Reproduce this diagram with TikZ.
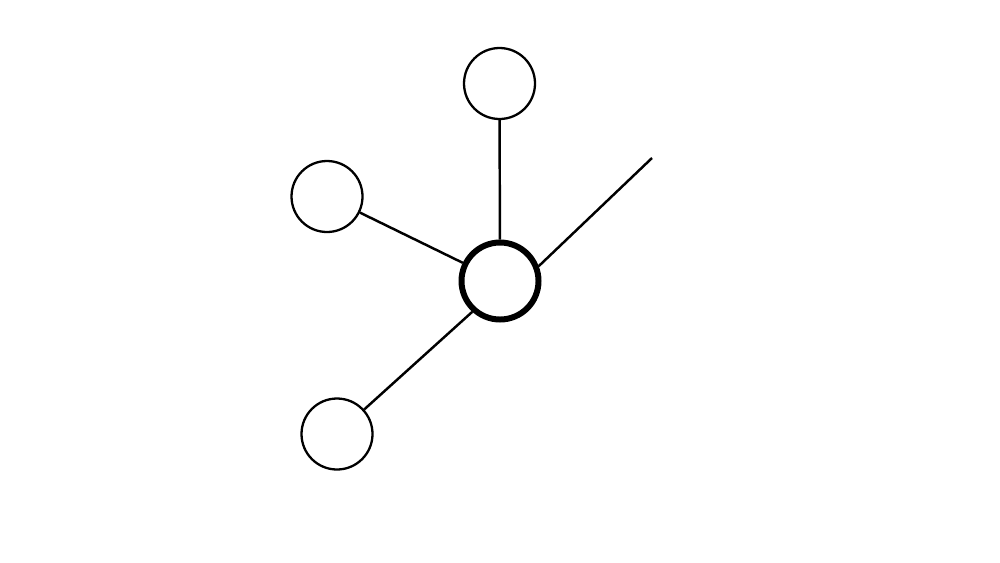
\documentclass[tikz,border=0pt]{standalone}
\begin{document}
\begin{tikzpicture}[
  leaf/.style={circle,draw=black,line width=0.65pt,minimum size=0.71cm,inner sep=0pt,fill=white},
  hub/.style={circle,draw=black,line width=1.7pt,minimum size=0.77cm,inner sep=0pt,fill=white},
  link/.style={draw=black,line width=0.7pt}
]
\useasboundingbox (0,0) rectangle (10,5.62);
\fill[white] (0,0) rectangle (10,5.62);
\node[hub] (c) at (5.00,2.81) {};
\node[leaf] (t) at (4.995,4.785) {};
\node[leaf] (l) at (3.27,3.655) {};
\node[leaf] (b) at (3.37,1.28) {};
\coordinate (e) at (6.52,4.04);
\draw[link] (c) -- (t);
\draw[link] (c) -- (l);
\draw[link] (c.228) -- (b);
\draw[link] (c.21) -- (e);
\end{tikzpicture}
\end{document}
